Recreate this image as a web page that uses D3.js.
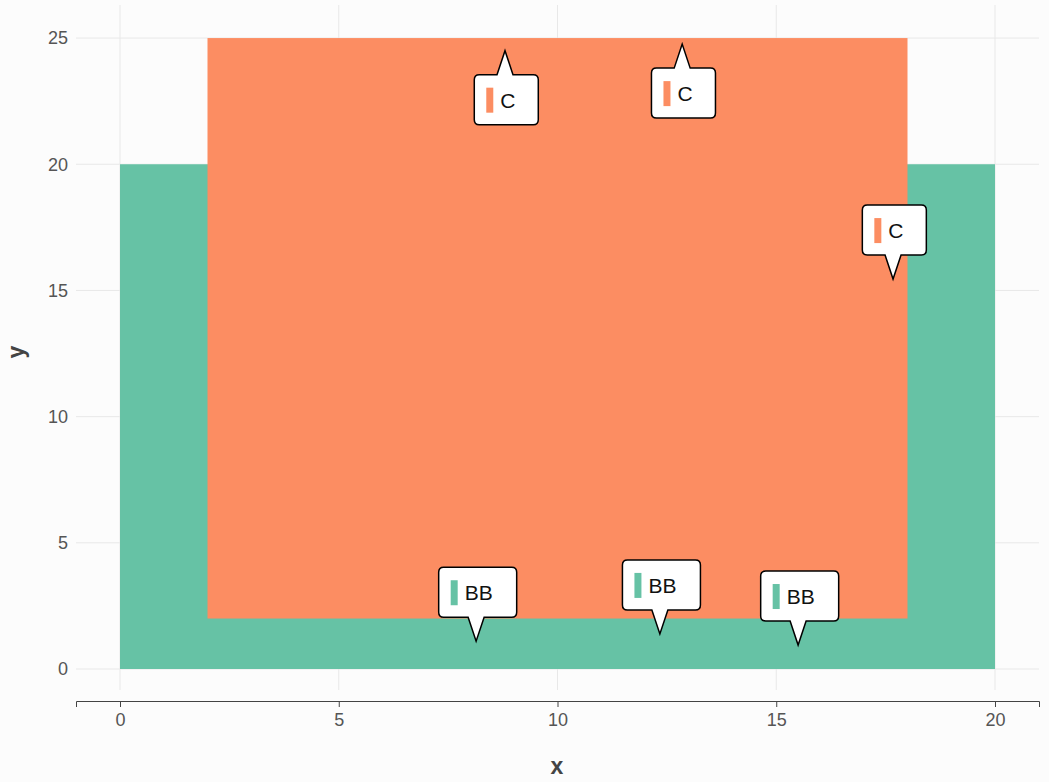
<!DOCTYPE html><html><head><script src="https://cdn.jsdelivr.net/npm/d3@7"></script>
<style>body{margin:0;background:#fcfcfc}text{font-family:"Helvetica Neue",Arial,"Liberation Sans",sans-serif}</style></head><body>
<svg id="c" width="1049" height="782"></svg>
<script>
const rects=[{name:"BB",x0:0,x1:20,y0:0,y1:20,color:"#66c2a5"},{name:"C",x0:2,x1:18,y0:2,y1:25,color:"#fc8d62"}];
const xTicks=[0,5,10,15,20], yTicks=[0,5,10,15,20,25];
const tips=[{name:"C",x:8.8,y:24.5,dir:"up",color:"#fc8d62"},{name:"C",x:12.85,y:24.76,dir:"up",color:"#fc8d62"},{name:"C",x:17.67,y:15.45,dir:"down",color:"#fc8d62"},
{name:"BB",x:8.14,y:1.1,dir:"down",color:"#66c2a5"},{name:"BB",x:12.34,y:1.39,dir:"down",color:"#66c2a5"},{name:"BB",x:15.5,y:0.95,dir:"down",color:"#66c2a5"}];
const svg=d3.select("#c");
const x=d3.scaleLinear().domain([-1.006,21.006]).range([76,1039]);
const y=d3.scaleLinear().domain([-0.832,26.31]).range([690,5]);
const g=svg.append("g");
g.selectAll(".vg").data(xTicks).join("line").attr("x1",d=>x(d)).attr("x2",d=>x(d)).attr("y1",5).attr("y2",690).attr("stroke","#e8e8e8");
g.selectAll(".hg").data(yTicks).join("line").attr("x1",76).attr("x2",1039).attr("y1",d=>y(d)).attr("y2",d=>y(d)).attr("stroke","#e8e8e8");
g.selectAll(".r").data(rects).join("rect").attr("x",d=>x(d.x0)).attr("width",d=>x(d.x1)-x(d.x0)).attr("y",d=>y(d.y1)).attr("height",d=>y(d.y0)-y(d.y1)).attr("fill",d=>d.color);
const xa=svg.append("g").attr("transform","translate(0,701)").call(d3.axisBottom(x).tickValues(xTicks).tickSize(6).tickPadding(6));
xa.select(".domain").attr("stroke","#444");xa.selectAll("line").attr("stroke","#444");
xa.selectAll("text").attr("font-size",18).attr("fill","#555");
const ya=svg.append("g").attr("transform","translate(76,0)").call(d3.axisLeft(y).tickValues(yTicks).tickSize(0).tickPadding(8));
ya.select(".domain").remove();ya.selectAll("text").attr("font-size",18).attr("fill","#555");
svg.append("text").attr("x",557).attr("y",774).attr("text-anchor","middle").attr("font-size",23).attr("font-weight","bold").attr("fill","#444").text("x");
svg.append("text").attr("transform","translate(24,352) rotate(-90)").attr("text-anchor","middle").attr("font-size",23).attr("font-weight","bold").attr("fill","#444").text("y");
tips.forEach(t=>{
  const tx=x(t.x),ty=y(t.y);const w=t.name==="BB"?78:64,h=50,p=24;
  const bx=tx-w*0.48;const by=t.dir==="up"?ty+p:ty-p-h;
  let path;
  if(t.dir==="up") path=`M${bx+5},${by} L${tx-8},${by} L${tx},${ty} L${tx+8},${by} L${bx+w-5},${by} Q${bx+w},${by} ${bx+w},${by+5} L${bx+w},${by+h-5} Q${bx+w},${by+h} ${bx+w-5},${by+h} L${bx+5},${by+h} Q${bx},${by+h} ${bx},${by+h-5} L${bx},${by+5} Q${bx},${by} ${bx+5},${by}Z`;
  else path=`M${bx+5},${by} L${bx+w-5},${by} Q${bx+w},${by} ${bx+w},${by+5} L${bx+w},${by+h-5} Q${bx+w},${by+h} ${bx+w-5},${by+h} L${tx+8},${by+h} L${tx},${ty} L${tx-8},${by+h} L${bx+5},${by+h} Q${bx},${by+h} ${bx},${by+h-5} L${bx},${by+5} Q${bx},${by} ${bx+5},${by}Z`;
  svg.append("path").attr("d",path).attr("fill","white").attr("stroke","black").attr("stroke-width",1.5);
  svg.append("rect").attr("x",bx+12).attr("y",by+13).attr("width",7).attr("height",25).attr("fill",t.color);
  svg.append("text").attr("x",bx+26).attr("y",by+33).attr("font-size",21).attr("fill","#111").text(t.name);
});
</script></body></html>
